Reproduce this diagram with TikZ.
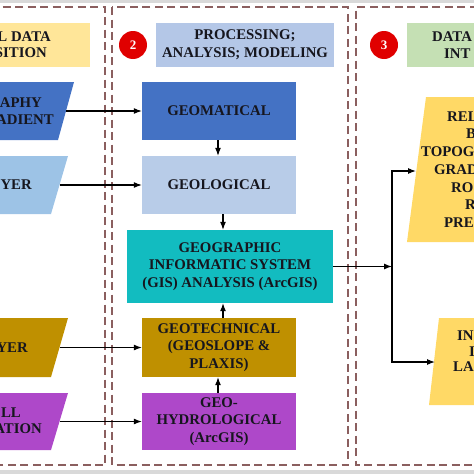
\documentclass[tikz,border=0pt]{standalone}
\usepackage{fontspec}
\setmainfont{Liberation Serif}
\usetikzlibrary{arrows.meta}

\definecolor{stripgray}{HTML}{D9D9D9}
\definecolor{framered}{HTML}{8B5F5F}
\definecolor{badgered}{HTML}{E00000}
\definecolor{txtdark}{HTML}{16161E}
\definecolor{hdryellow}{HTML}{FFE699}
\definecolor{hdrblue}{HTML}{B4C7E7}
\definecolor{hdrgreen}{HTML}{C5E0B4}
\definecolor{topoblue}{HTML}{4472C4}
\definecolor{rockblue}{HTML}{9DC3E6}
\definecolor{geolight}{HTML}{B8CCE8}
\definecolor{gisteal}{HTML}{12BCC0}
\definecolor{soilochre}{HTML}{BF9000}
\definecolor{rainpurple}{HTML}{AE48C9}
\definecolor{resyellow}{HTML}{FFD966}

\newcommand{\boxfont}{\bfseries\fontsize{14.8}{17.7}\selectfont}

\tikzset{
  box/.style={align=center, font=\boxfont, text=txtdark, inner sep=0pt},
  frag/.style={font=\boxfont, text=txtdark, inner sep=0pt},
  frame/.style={draw=framered, line width=1.2pt, dash pattern=on 8pt off 4.5pt},
  badge/.style={circle, fill=badgered, text=white, inner sep=0pt,
                minimum size=28pt, font=\bfseries\fontsize{13}{13}\selectfont},
  link/.style={line width=1.1pt, -{Latex[length=8pt,width=6pt]}},
}

\begin{document}
\begin{tikzpicture}[x=1pt, y=-1pt]

  \useasboundingbox (0,0) rectangle (474,474);
  \clip (0,0) rectangle (474,474);

  % Grey strips of the cut figure
  \fill[stripgray] (0,0) rectangle (474,2.5);
  \fill[stripgray] (0,469.5) rectangle (474,474);

  % Dashed panel frames
  \draw[frame] (-10,7) -- (105,7) -- (105,465) -- (-10,465);
  \draw[frame] (112,7) rectangle (348,465);
  \draw[frame] (490,7) -- (356,7) -- (356,465) -- (490,465);

  % Panel 1: inputs (cut at the left edge)
  \fill[hdryellow]  (-20,23) rectangle (90,67);
  \fill[topoblue]   (-20,82) -- (74,82) -- (58,140) -- (-20,140) -- cycle;
  \fill[rockblue]   (-20,156) -- (68,156) -- (51,214) -- (-20,214) -- cycle;
  \fill[soilochre]  (-20,318) -- (68,318) -- (51,377) -- (-20,377) -- cycle;
  \fill[rainpurple] (-20,393) -- (68,393) -- (51,450) -- (-20,450) -- cycle;

  \foreach \px/\py/\txt in {51/41/L DATA, 47/57/SITION, 42/107/APHY,
                            54/124/ADIENT, 32/189/YER, 28/352/YER,
                            21/417/LL, 42/433/ATION}
    \node[frag, anchor=base east] at (\px,\py) {\txt};

  \coordinate (topoout) at (66,111);
  \coordinate (rockout) at (59.5,185);
  \coordinate (soilout) at (59.5,347.5);
  \coordinate (rainout) at (59.5,421.5);

  % Panel 2: processing
  \node[badge] (step2) at (133,45) {2};
  \node[box, fill=hdrblue, minimum width=178pt, minimum height=44pt]
    (prochdr) at (245,45) {PROCESSING;\\ANALYSIS; MODELING};

  \node[box, fill=topoblue, minimum width=154pt, minimum height=58pt]
    (geomat) at (219,111) {GEOMATICAL};
  \node[box, fill=geolight, minimum width=154pt, minimum height=58pt]
    (geolog) at (219,185) {GEOLOGICAL};
  \node[box, fill=gisteal, minimum width=206pt, minimum height=73pt]
    (gis) at (230,266.5) {GEOGRAPHIC\\INFORMATIC SYSTEM\\(GIS) ANALYSIS (ArcGIS)};
  \node[box, fill=soilochre, minimum width=154pt, minimum height=59pt]
    (geotech) at (219,347.5) {GEOTECHNICAL\\(GEOSLOPE \&\\PLAXIS)};
  \node[box, fill=rainpurple, minimum width=154pt, minimum height=57pt]
    (geohydro) at (219,421.5) {GEO-\\HYDROLOGICAL\\(ArcGIS)};

  \draw[link] (topoout) -- (geomat.west);
  \draw[link] (rockout) -- (geolog.west);
  \draw[link] (soilout) -- (geotech.west);
  \draw[link] (rainout) -- (geohydro.west);

  \draw[link] ([xshift=-1pt]geomat.south) -- ([xshift=-1pt]geolog.north);
  \draw[link] ([xshift=4pt]geolog.south) -- ([xshift=4pt]geolog.south |- gis.north);
  \draw[link] ([xshift=4pt]geotech.north) -- ([xshift=4pt]geotech.north |- gis.south);
  \draw[link] ([xshift=-1pt]geohydro.north) -- ([xshift=-1pt]geotech.south);

  % Panel 3: interpretation (cut at the right edge)
  \node[badge] (step3) at (384,45) {3};
  \fill[hdrgreen]  (407,23) rectangle (520,67);
  \fill[resyellow] (426,97) -- (520,97) -- (520,242) -- (407,242) -- cycle;
  \fill[resyellow] (439,318) -- (520,318) -- (520,405) -- (429,405) -- cycle;

  \foreach \px/\py/\txt in {432/41/DATA, 444/58/INT, 447/121/REL, 466/138/B,
                            421/156/TOPOG, 434/174/GRAD, 451/192/RO,
                            465/209/R, 444/227/PRE, 457/340/IN, 469/356/I,
                            453/371/LA}
    \node[frag, anchor=base west] at (\px,\py) {\txt};

  \coordinate (split) at (392,266.5);
  \coordinate (relin) at (416,171);
  \coordinate (indin) at (435,362);

  \draw[link] (gis.east) -- (split);
  \draw[link] (split) |- (relin);
  \draw[link] (split) |- (indin);

\end{tikzpicture}
\end{document}
